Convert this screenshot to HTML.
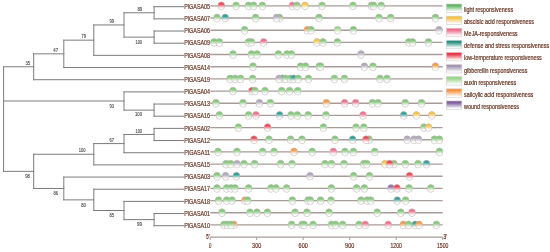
<!DOCTYPE html><html><head><meta charset="utf-8"><title>PlGASA cis-elements</title>
<style>html,body{margin:0;padding:0;background:#fff;}svg{display:block;filter:blur(0.3px);}text{font-family:"Liberation Sans",Arial,sans-serif;}</style></head><body>
<svg width="550" height="252" viewBox="0 0 550 252">
<defs>
<linearGradient id="gG" x1="0" y1="0" x2="0" y2="1"><stop offset="0" stop-color="#84c97c"/><stop offset="0.28" stop-color="#84c97c"/><stop offset="0.78" stop-color="#ffffff"/></linearGradient>
<linearGradient id="sG" x1="0" y1="0" x2="0" y2="1"><stop offset="0" stop-color="#62b862"/><stop offset="0.2" stop-color="#62b862"/><stop offset="0.9" stop-color="#ffffff"/></linearGradient>
<linearGradient id="gY" x1="0" y1="0" x2="0" y2="1"><stop offset="0" stop-color="#f8c64a"/><stop offset="0.28" stop-color="#f8c64a"/><stop offset="0.78" stop-color="#ffffff"/></linearGradient>
<linearGradient id="sY" x1="0" y1="0" x2="0" y2="1"><stop offset="0" stop-color="#f6c040"/><stop offset="0.2" stop-color="#f6c040"/><stop offset="0.9" stop-color="#ffffff"/></linearGradient>
<linearGradient id="gP" x1="0" y1="0" x2="0" y2="1"><stop offset="0" stop-color="#f27090"/><stop offset="0.28" stop-color="#f27090"/><stop offset="0.78" stop-color="#ffffff"/></linearGradient>
<linearGradient id="sP" x1="0" y1="0" x2="0" y2="1"><stop offset="0" stop-color="#f06a8a"/><stop offset="0.2" stop-color="#f06a8a"/><stop offset="0.9" stop-color="#ffffff"/></linearGradient>
<linearGradient id="gT" x1="0" y1="0" x2="0" y2="1"><stop offset="0" stop-color="#32a096"/><stop offset="0.28" stop-color="#32a096"/><stop offset="0.78" stop-color="#ffffff"/></linearGradient>
<linearGradient id="sT" x1="0" y1="0" x2="0" y2="1"><stop offset="0" stop-color="#22907f"/><stop offset="0.2" stop-color="#22907f"/><stop offset="0.9" stop-color="#ffffff"/></linearGradient>
<linearGradient id="gR" x1="0" y1="0" x2="0" y2="1"><stop offset="0" stop-color="#f04656"/><stop offset="0.28" stop-color="#f04656"/><stop offset="0.78" stop-color="#ffffff"/></linearGradient>
<linearGradient id="sR" x1="0" y1="0" x2="0" y2="1"><stop offset="0" stop-color="#ea3444"/><stop offset="0.2" stop-color="#ea3444"/><stop offset="0.9" stop-color="#ffffff"/></linearGradient>
<linearGradient id="gL" x1="0" y1="0" x2="0" y2="1"><stop offset="0" stop-color="#b0a8bc"/><stop offset="0.28" stop-color="#b0a8bc"/><stop offset="0.78" stop-color="#ffffff"/></linearGradient>
<linearGradient id="sL" x1="0" y1="0" x2="0" y2="1"><stop offset="0" stop-color="#a096b0"/><stop offset="0.2" stop-color="#a096b0"/><stop offset="0.9" stop-color="#ffffff"/></linearGradient>
<linearGradient id="gA" x1="0" y1="0" x2="0" y2="1"><stop offset="0" stop-color="#a4d894"/><stop offset="0.28" stop-color="#a4d894"/><stop offset="0.78" stop-color="#ffffff"/></linearGradient>
<linearGradient id="sA" x1="0" y1="0" x2="0" y2="1"><stop offset="0" stop-color="#9cd68c"/><stop offset="0.2" stop-color="#9cd68c"/><stop offset="0.9" stop-color="#ffffff"/></linearGradient>
<linearGradient id="gO" x1="0" y1="0" x2="0" y2="1"><stop offset="0" stop-color="#f89a48"/><stop offset="0.28" stop-color="#f89a48"/><stop offset="0.78" stop-color="#ffffff"/></linearGradient>
<linearGradient id="sO" x1="0" y1="0" x2="0" y2="1"><stop offset="0" stop-color="#f8923e"/><stop offset="0.2" stop-color="#f8923e"/><stop offset="0.9" stop-color="#ffffff"/></linearGradient>
<linearGradient id="gW" x1="0" y1="0" x2="0" y2="1"><stop offset="0" stop-color="#9474b0"/><stop offset="0.28" stop-color="#9474b0"/><stop offset="0.78" stop-color="#ffffff"/></linearGradient>
<linearGradient id="sW" x1="0" y1="0" x2="0" y2="1"><stop offset="0" stop-color="#7e5e9c"/><stop offset="0.2" stop-color="#7e5e9c"/><stop offset="0.9" stop-color="#ffffff"/></linearGradient>
</defs>
<rect width="550" height="252" fill="#ffffff"/>
<g stroke-linecap="square" fill="none">
<line x1="3.6" y1="66.78" x2="3.6" y2="171.35" stroke="#7c7c7c" stroke-width="1"/>
<line x1="3.6" y1="66.78" x2="33.7" y2="66.78" stroke="#7c7c7c" stroke-width="1"/>
<line x1="3.6" y1="101" x2="124" y2="101" stroke="#7c7c7c" stroke-width="1"/>
<line x1="3.6" y1="171.35" x2="33.7" y2="171.35" stroke="#7c7c7c" stroke-width="1"/>
<line x1="33.7" y1="53.85" x2="33.7" y2="79.71" stroke="#7c7c7c" stroke-width="1"/>
<line x1="33.7" y1="53.85" x2="63.8" y2="53.85" stroke="#7c7c7c" stroke-width="1"/>
<line x1="63.8" y1="40.16" x2="63.8" y2="67.54" stroke="#7c7c7c" stroke-width="1"/>
<line x1="63.8" y1="40.16" x2="93.8" y2="40.16" stroke="#7c7c7c" stroke-width="1"/>
<line x1="93.8" y1="24.95" x2="93.8" y2="55.37" stroke="#7c7c7c" stroke-width="1"/>
<line x1="93.8" y1="24.95" x2="124" y2="24.95" stroke="#7c7c7c" stroke-width="1"/>
<line x1="124" y1="12.78" x2="124" y2="37.12" stroke="#7c7c7c" stroke-width="1"/>
<line x1="124" y1="12.78" x2="154.1" y2="12.78" stroke="#7c7c7c" stroke-width="1"/>
<line x1="124" y1="37.12" x2="154.1" y2="37.12" stroke="#7c7c7c" stroke-width="1"/>
<line x1="154.1" y1="6.7" x2="154.1" y2="18.87" stroke="#7c7c7c" stroke-width="1"/>
<line x1="154.1" y1="31.04" x2="154.1" y2="43.2" stroke="#7c7c7c" stroke-width="1"/>
<line x1="124" y1="91.88" x2="124" y2="110.13" stroke="#7c7c7c" stroke-width="1"/>
<line x1="124" y1="110.13" x2="154.1" y2="110.13" stroke="#7c7c7c" stroke-width="1"/>
<line x1="154.1" y1="104.04" x2="154.1" y2="116.21" stroke="#7c7c7c" stroke-width="1"/>
<line x1="33.7" y1="154.24" x2="33.7" y2="188.46" stroke="#7c7c7c" stroke-width="1"/>
<line x1="33.7" y1="154.24" x2="93.8" y2="154.24" stroke="#7c7c7c" stroke-width="1"/>
<line x1="33.7" y1="188.46" x2="63.8" y2="188.46" stroke="#7c7c7c" stroke-width="1"/>
<line x1="93.8" y1="143.59" x2="93.8" y2="164.88" stroke="#7c7c7c" stroke-width="1"/>
<line x1="93.8" y1="143.59" x2="124" y2="143.59" stroke="#7c7c7c" stroke-width="1"/>
<line x1="124" y1="134.46" x2="124" y2="152.72" stroke="#7c7c7c" stroke-width="1"/>
<line x1="124" y1="134.46" x2="154.1" y2="134.46" stroke="#7c7c7c" stroke-width="1"/>
<line x1="154.1" y1="128.38" x2="154.1" y2="140.55" stroke="#7c7c7c" stroke-width="1"/>
<line x1="63.8" y1="177.05" x2="63.8" y2="199.87" stroke="#7c7c7c" stroke-width="1"/>
<line x1="63.8" y1="199.87" x2="93.8" y2="199.87" stroke="#7c7c7c" stroke-width="1"/>
<line x1="93.8" y1="189.22" x2="93.8" y2="210.51" stroke="#7c7c7c" stroke-width="1"/>
<line x1="93.8" y1="210.51" x2="124" y2="210.51" stroke="#7c7c7c" stroke-width="1"/>
<line x1="124" y1="201.39" x2="124" y2="219.64" stroke="#7c7c7c" stroke-width="1"/>
<line x1="124" y1="219.64" x2="154.1" y2="219.64" stroke="#7c7c7c" stroke-width="1"/>
<line x1="154.1" y1="213.56" x2="154.1" y2="225.72" stroke="#7c7c7c" stroke-width="1"/>
<line x1="154.1" y1="6.7" x2="183.6" y2="6.7" stroke="#7c7c7c" stroke-width="1"/>
<line x1="154.1" y1="18.87" x2="183.6" y2="18.87" stroke="#7c7c7c" stroke-width="1"/>
<line x1="154.1" y1="31.04" x2="183.6" y2="31.04" stroke="#7c7c7c" stroke-width="1"/>
<line x1="154.1" y1="43.2" x2="183.6" y2="43.2" stroke="#7c7c7c" stroke-width="1"/>
<line x1="93.8" y1="55.37" x2="183.6" y2="55.37" stroke="#7c7c7c" stroke-width="1"/>
<line x1="63.8" y1="67.54" x2="183.6" y2="67.54" stroke="#7c7c7c" stroke-width="1"/>
<line x1="33.7" y1="79.71" x2="183.6" y2="79.71" stroke="#7c7c7c" stroke-width="1"/>
<line x1="124" y1="91.88" x2="183.6" y2="91.88" stroke="#7c7c7c" stroke-width="1"/>
<line x1="154.1" y1="104.04" x2="183.6" y2="104.04" stroke="#7c7c7c" stroke-width="1"/>
<line x1="154.1" y1="116.21" x2="183.6" y2="116.21" stroke="#7c7c7c" stroke-width="1"/>
<line x1="154.1" y1="128.38" x2="183.6" y2="128.38" stroke="#7c7c7c" stroke-width="1"/>
<line x1="154.1" y1="140.55" x2="183.6" y2="140.55" stroke="#7c7c7c" stroke-width="1"/>
<line x1="124" y1="152.72" x2="183.6" y2="152.72" stroke="#7c7c7c" stroke-width="1"/>
<line x1="93.8" y1="164.88" x2="183.6" y2="164.88" stroke="#7c7c7c" stroke-width="1"/>
<line x1="63.8" y1="177.05" x2="183.6" y2="177.05" stroke="#7c7c7c" stroke-width="1"/>
<line x1="93.8" y1="189.22" x2="183.6" y2="189.22" stroke="#7c7c7c" stroke-width="1"/>
<line x1="124" y1="201.39" x2="183.6" y2="201.39" stroke="#7c7c7c" stroke-width="1"/>
<line x1="154.1" y1="213.56" x2="183.6" y2="213.56" stroke="#7c7c7c" stroke-width="1"/>
<line x1="154.1" y1="225.72" x2="183.6" y2="225.72" stroke="#7c7c7c" stroke-width="1"/>
</g>
<text x="137.4" y="10.6" font-size="4.6" fill="#4a4a4a" stroke="#4a4a4a" stroke-width="0.12" textLength="4.8" lengthAdjust="spacingAndGlyphs">89</text>
<text x="135.5" y="43.7" font-size="4.6" fill="#4a4a4a" stroke="#4a4a4a" stroke-width="0.12" textLength="6.5" lengthAdjust="spacingAndGlyphs">100</text>
<text x="109.5" y="23.2" font-size="4.6" fill="#4a4a4a" stroke="#4a4a4a" stroke-width="0.12" textLength="4.5" lengthAdjust="spacingAndGlyphs">99</text>
<text x="81.5" y="38.3" font-size="4.6" fill="#4a4a4a" stroke="#4a4a4a" stroke-width="0.12" textLength="4.5" lengthAdjust="spacingAndGlyphs">79</text>
<text x="53.3" y="51.8" font-size="4.6" fill="#4a4a4a" stroke="#4a4a4a" stroke-width="0.12" textLength="4.8" lengthAdjust="spacingAndGlyphs">47</text>
<text x="25.4" y="64.9" font-size="4.6" fill="#4a4a4a" stroke="#4a4a4a" stroke-width="0.12" textLength="4.7" lengthAdjust="spacingAndGlyphs">35</text>
<text x="109.5" y="107.5" font-size="4.6" fill="#4a4a4a" stroke="#4a4a4a" stroke-width="0.12" textLength="4.5" lengthAdjust="spacingAndGlyphs">93</text>
<text x="135" y="116.4" font-size="4.6" fill="#4a4a4a" stroke="#4a4a4a" stroke-width="0.12" textLength="7" lengthAdjust="spacingAndGlyphs">100</text>
<text x="135.5" y="132.9" font-size="4.6" fill="#4a4a4a" stroke="#4a4a4a" stroke-width="0.12" textLength="6.5" lengthAdjust="spacingAndGlyphs">100</text>
<text x="109.5" y="142.4" font-size="4.6" fill="#4a4a4a" stroke="#4a4a4a" stroke-width="0.12" textLength="4.5" lengthAdjust="spacingAndGlyphs">67</text>
<text x="78.7" y="152.4" font-size="4.6" fill="#4a4a4a" stroke="#4a4a4a" stroke-width="0.12" textLength="6.8" lengthAdjust="spacingAndGlyphs">100</text>
<text x="25.2" y="178.2" font-size="4.6" fill="#4a4a4a" stroke="#4a4a4a" stroke-width="0.12" textLength="4.8" lengthAdjust="spacingAndGlyphs">98</text>
<text x="53.4" y="195.1" font-size="4.6" fill="#4a4a4a" stroke="#4a4a4a" stroke-width="0.12" textLength="4.5" lengthAdjust="spacingAndGlyphs">86</text>
<text x="81.2" y="206.5" font-size="4.6" fill="#4a4a4a" stroke="#4a4a4a" stroke-width="0.12" textLength="4.7" lengthAdjust="spacingAndGlyphs">80</text>
<text x="109.5" y="216.9" font-size="4.6" fill="#4a4a4a" stroke="#4a4a4a" stroke-width="0.12" textLength="4.5" lengthAdjust="spacingAndGlyphs">85</text>
<text x="137" y="225.9" font-size="4.6" fill="#4a4a4a" stroke="#4a4a4a" stroke-width="0.12" textLength="5" lengthAdjust="spacingAndGlyphs">99</text>
<line x1="210.3" y1="5.9" x2="442.6" y2="5.9" stroke="#a89c9a" stroke-width="1.4"/>
<text x="184.3" y="8.95" font-size="7.9" fill="#64301f" stroke="#64301f" stroke-width="0.2" textLength="25.8" lengthAdjust="spacingAndGlyphs">PlGASA05</text>
<ellipse cx="221.3" cy="5.9" rx="3.45" ry="3.95" fill="url(#gR)" stroke="#bcb4b0" stroke-width="0.55"/>
<ellipse cx="236.1" cy="5.9" rx="3.45" ry="3.95" fill="url(#gG)" stroke="#bcb4b0" stroke-width="0.55"/>
<ellipse cx="248.5" cy="5.9" rx="3.45" ry="3.95" fill="url(#gG)" stroke="#bcb4b0" stroke-width="0.55"/>
<ellipse cx="253.6" cy="5.9" rx="3.45" ry="3.95" fill="url(#gG)" stroke="#bcb4b0" stroke-width="0.55"/>
<ellipse cx="262.4" cy="5.9" rx="3.45" ry="3.95" fill="url(#gG)" stroke="#bcb4b0" stroke-width="0.55"/>
<ellipse cx="292.4" cy="5.9" rx="3.45" ry="3.95" fill="url(#gP)" stroke="#bcb4b0" stroke-width="0.55"/>
<ellipse cx="297" cy="5.9" rx="3.45" ry="3.95" fill="url(#gG)" stroke="#bcb4b0" stroke-width="0.55"/>
<ellipse cx="305" cy="5.9" rx="3.45" ry="3.95" fill="url(#gY)" stroke="#bcb4b0" stroke-width="0.55"/>
<ellipse cx="322" cy="5.9" rx="3.45" ry="3.95" fill="url(#gG)" stroke="#bcb4b0" stroke-width="0.55"/>
<ellipse cx="353" cy="5.9" rx="3.45" ry="3.95" fill="url(#gG)" stroke="#bcb4b0" stroke-width="0.55"/>
<ellipse cx="371.5" cy="5.9" rx="3.45" ry="3.95" fill="url(#gG)" stroke="#bcb4b0" stroke-width="0.55"/>
<ellipse cx="373.6" cy="5.9" rx="3.45" ry="3.95" fill="url(#gG)" stroke="#bcb4b0" stroke-width="0.55"/>
<ellipse cx="381.2" cy="5.9" rx="3.45" ry="3.95" fill="url(#gG)" stroke="#bcb4b0" stroke-width="0.55"/>
<line x1="210.3" y1="18.07" x2="442.6" y2="18.07" stroke="#a89c9a" stroke-width="1.4"/>
<text x="184.3" y="21.12" font-size="7.9" fill="#64301f" stroke="#64301f" stroke-width="0.2" textLength="25.8" lengthAdjust="spacingAndGlyphs">PlGASA07</text>
<ellipse cx="217" cy="18.07" rx="3.45" ry="3.95" fill="url(#gG)" stroke="#bcb4b0" stroke-width="0.55"/>
<ellipse cx="225.2" cy="18.07" rx="3.45" ry="3.95" fill="url(#gT)" stroke="#bcb4b0" stroke-width="0.55"/>
<ellipse cx="255.6" cy="18.07" rx="3.45" ry="3.95" fill="url(#gG)" stroke="#bcb4b0" stroke-width="0.55"/>
<ellipse cx="279.4" cy="18.07" rx="3.45" ry="3.95" fill="url(#gG)" stroke="#bcb4b0" stroke-width="0.55"/>
<ellipse cx="276.6" cy="18.07" rx="3.45" ry="3.95" fill="url(#gL)" stroke="#bcb4b0" stroke-width="0.55"/>
<ellipse cx="319" cy="18.07" rx="3.45" ry="3.95" fill="url(#gG)" stroke="#bcb4b0" stroke-width="0.55"/>
<ellipse cx="379" cy="18.07" rx="3.45" ry="3.95" fill="url(#gG)" stroke="#bcb4b0" stroke-width="0.55"/>
<ellipse cx="390.7" cy="18.07" rx="3.45" ry="3.95" fill="url(#gG)" stroke="#bcb4b0" stroke-width="0.55"/>
<ellipse cx="435.4" cy="18.07" rx="3.45" ry="3.95" fill="url(#gG)" stroke="#bcb4b0" stroke-width="0.55"/>
<line x1="210.3" y1="30.24" x2="442.6" y2="30.24" stroke="#a89c9a" stroke-width="1.4"/>
<text x="184.3" y="33.29" font-size="7.9" fill="#64301f" stroke="#64301f" stroke-width="0.2" textLength="25.8" lengthAdjust="spacingAndGlyphs">PlGASA06</text>
<ellipse cx="244.6" cy="30.24" rx="3.45" ry="3.95" fill="url(#gG)" stroke="#bcb4b0" stroke-width="0.55"/>
<ellipse cx="307.3" cy="30.24" rx="3.45" ry="3.95" fill="url(#gO)" stroke="#bcb4b0" stroke-width="0.55"/>
<ellipse cx="311" cy="30.24" rx="3.45" ry="3.95" fill="url(#gG)" stroke="#bcb4b0" stroke-width="0.55"/>
<ellipse cx="337.6" cy="30.24" rx="3.45" ry="3.95" fill="url(#gA)" stroke="#bcb4b0" stroke-width="0.55"/>
<ellipse cx="353.4" cy="30.24" rx="3.45" ry="3.95" fill="url(#gG)" stroke="#bcb4b0" stroke-width="0.55"/>
<ellipse cx="439" cy="30.24" rx="3.45" ry="3.95" fill="url(#gL)" stroke="#bcb4b0" stroke-width="0.55"/>
<line x1="210.3" y1="42.4" x2="442.6" y2="42.4" stroke="#a89c9a" stroke-width="1.4"/>
<text x="184.3" y="45.45" font-size="7.9" fill="#64301f" stroke="#64301f" stroke-width="0.2" textLength="25.8" lengthAdjust="spacingAndGlyphs">PlGASA09</text>
<ellipse cx="214" cy="42.4" rx="3.45" ry="3.95" fill="url(#gG)" stroke="#bcb4b0" stroke-width="0.55"/>
<ellipse cx="219.4" cy="42.4" rx="3.45" ry="3.95" fill="url(#gG)" stroke="#bcb4b0" stroke-width="0.55"/>
<ellipse cx="248.6" cy="42.4" rx="3.45" ry="3.95" fill="url(#gG)" stroke="#bcb4b0" stroke-width="0.55"/>
<ellipse cx="251.4" cy="42.4" rx="3.45" ry="3.95" fill="url(#gG)" stroke="#bcb4b0" stroke-width="0.55"/>
<ellipse cx="263.6" cy="42.4" rx="3.45" ry="3.95" fill="url(#gP)" stroke="#bcb4b0" stroke-width="0.55"/>
<ellipse cx="317" cy="42.4" rx="3.45" ry="3.95" fill="url(#gY)" stroke="#bcb4b0" stroke-width="0.55"/>
<ellipse cx="323" cy="42.4" rx="3.45" ry="3.95" fill="url(#gG)" stroke="#bcb4b0" stroke-width="0.55"/>
<ellipse cx="337.4" cy="42.4" rx="3.45" ry="3.95" fill="url(#gG)" stroke="#bcb4b0" stroke-width="0.55"/>
<ellipse cx="408.8" cy="42.4" rx="3.45" ry="3.95" fill="url(#gG)" stroke="#bcb4b0" stroke-width="0.55"/>
<ellipse cx="412.6" cy="42.4" rx="3.45" ry="3.95" fill="url(#gG)" stroke="#bcb4b0" stroke-width="0.55"/>
<ellipse cx="428.5" cy="42.4" rx="3.45" ry="3.95" fill="url(#gG)" stroke="#bcb4b0" stroke-width="0.55"/>
<line x1="210.3" y1="54.57" x2="442.6" y2="54.57" stroke="#a89c9a" stroke-width="1.4"/>
<text x="184.3" y="57.62" font-size="7.9" fill="#64301f" stroke="#64301f" stroke-width="0.2" textLength="25.8" lengthAdjust="spacingAndGlyphs">PlGASA08</text>
<ellipse cx="233" cy="54.57" rx="3.45" ry="3.95" fill="url(#gG)" stroke="#bcb4b0" stroke-width="0.55"/>
<ellipse cx="251.4" cy="54.57" rx="3.45" ry="3.95" fill="url(#gG)" stroke="#bcb4b0" stroke-width="0.55"/>
<ellipse cx="257" cy="54.57" rx="3.45" ry="3.95" fill="url(#gG)" stroke="#bcb4b0" stroke-width="0.55"/>
<ellipse cx="278.4" cy="54.57" rx="3.45" ry="3.95" fill="url(#gG)" stroke="#bcb4b0" stroke-width="0.55"/>
<ellipse cx="287" cy="54.57" rx="3.45" ry="3.95" fill="url(#gG)" stroke="#bcb4b0" stroke-width="0.55"/>
<ellipse cx="291.4" cy="54.57" rx="3.45" ry="3.95" fill="url(#gG)" stroke="#bcb4b0" stroke-width="0.55"/>
<ellipse cx="361" cy="54.57" rx="3.45" ry="3.95" fill="url(#gL)" stroke="#bcb4b0" stroke-width="0.55"/>
<line x1="210.3" y1="66.74" x2="442.6" y2="66.74" stroke="#a89c9a" stroke-width="1.4"/>
<text x="184.3" y="69.79" font-size="7.9" fill="#64301f" stroke="#64301f" stroke-width="0.2" textLength="25.8" lengthAdjust="spacingAndGlyphs">PlGASA14</text>
<ellipse cx="253" cy="66.74" rx="3.45" ry="3.95" fill="url(#gG)" stroke="#bcb4b0" stroke-width="0.55"/>
<ellipse cx="300.6" cy="66.74" rx="3.45" ry="3.95" fill="url(#gG)" stroke="#bcb4b0" stroke-width="0.55"/>
<ellipse cx="305.6" cy="66.74" rx="3.45" ry="3.95" fill="url(#gG)" stroke="#bcb4b0" stroke-width="0.55"/>
<ellipse cx="319.2" cy="66.74" rx="3.45" ry="3.95" fill="url(#gG)" stroke="#bcb4b0" stroke-width="0.55"/>
<ellipse cx="320.6" cy="66.74" rx="3.45" ry="3.95" fill="url(#gG)" stroke="#bcb4b0" stroke-width="0.55"/>
<ellipse cx="364.4" cy="66.74" rx="3.45" ry="3.95" fill="url(#gL)" stroke="#bcb4b0" stroke-width="0.55"/>
<ellipse cx="373" cy="66.74" rx="3.45" ry="3.95" fill="url(#gG)" stroke="#bcb4b0" stroke-width="0.55"/>
<ellipse cx="435.4" cy="66.74" rx="3.45" ry="3.95" fill="url(#gO)" stroke="#bcb4b0" stroke-width="0.55"/>
<line x1="210.3" y1="78.91" x2="442.6" y2="78.91" stroke="#a89c9a" stroke-width="1.4"/>
<text x="184.3" y="81.96" font-size="7.9" fill="#64301f" stroke="#64301f" stroke-width="0.2" textLength="25.8" lengthAdjust="spacingAndGlyphs">PlGASA19</text>
<ellipse cx="230" cy="78.91" rx="3.45" ry="3.95" fill="url(#gG)" stroke="#bcb4b0" stroke-width="0.55"/>
<ellipse cx="235" cy="78.91" rx="3.45" ry="3.95" fill="url(#gG)" stroke="#bcb4b0" stroke-width="0.55"/>
<ellipse cx="240.6" cy="78.91" rx="3.45" ry="3.95" fill="url(#gG)" stroke="#bcb4b0" stroke-width="0.55"/>
<ellipse cx="252.6" cy="78.91" rx="3.45" ry="3.95" fill="url(#gG)" stroke="#bcb4b0" stroke-width="0.55"/>
<ellipse cx="282.6" cy="78.91" rx="3.45" ry="3.95" fill="url(#gT)" stroke="#bcb4b0" stroke-width="0.55"/>
<ellipse cx="279" cy="78.91" rx="3.45" ry="3.95" fill="url(#gL)" stroke="#bcb4b0" stroke-width="0.55"/>
<ellipse cx="285.5" cy="78.91" rx="3.45" ry="3.95" fill="url(#gG)" stroke="#bcb4b0" stroke-width="0.55"/>
<ellipse cx="290.6" cy="78.91" rx="3.45" ry="3.95" fill="url(#gG)" stroke="#bcb4b0" stroke-width="0.55"/>
<ellipse cx="293.6" cy="78.91" rx="3.45" ry="3.95" fill="url(#gT)" stroke="#bcb4b0" stroke-width="0.55"/>
<ellipse cx="298.3" cy="78.91" rx="3.45" ry="3.95" fill="url(#gG)" stroke="#bcb4b0" stroke-width="0.55"/>
<ellipse cx="308.5" cy="78.91" rx="3.45" ry="3.95" fill="url(#gG)" stroke="#bcb4b0" stroke-width="0.55"/>
<ellipse cx="334.4" cy="78.91" rx="3.45" ry="3.95" fill="url(#gG)" stroke="#bcb4b0" stroke-width="0.55"/>
<ellipse cx="344.4" cy="78.91" rx="3.45" ry="3.95" fill="url(#gG)" stroke="#bcb4b0" stroke-width="0.55"/>
<ellipse cx="380" cy="78.91" rx="3.45" ry="3.95" fill="url(#gG)" stroke="#bcb4b0" stroke-width="0.55"/>
<ellipse cx="387" cy="78.91" rx="3.45" ry="3.95" fill="url(#gG)" stroke="#bcb4b0" stroke-width="0.55"/>
<line x1="210.3" y1="91.08" x2="442.6" y2="91.08" stroke="#a89c9a" stroke-width="1.4"/>
<text x="184.3" y="94.13" font-size="7.9" fill="#64301f" stroke="#64301f" stroke-width="0.2" textLength="25.8" lengthAdjust="spacingAndGlyphs">PlGASA04</text>
<ellipse cx="233" cy="91.08" rx="3.45" ry="3.95" fill="url(#gG)" stroke="#bcb4b0" stroke-width="0.55"/>
<ellipse cx="252" cy="91.08" rx="3.45" ry="3.95" fill="url(#gR)" stroke="#bcb4b0" stroke-width="0.55"/>
<ellipse cx="255" cy="91.08" rx="3.45" ry="3.95" fill="url(#gG)" stroke="#bcb4b0" stroke-width="0.55"/>
<ellipse cx="265" cy="91.08" rx="3.45" ry="3.95" fill="url(#gG)" stroke="#bcb4b0" stroke-width="0.55"/>
<ellipse cx="281.7" cy="91.08" rx="3.45" ry="3.95" fill="url(#gG)" stroke="#bcb4b0" stroke-width="0.55"/>
<ellipse cx="289.6" cy="91.08" rx="3.45" ry="3.95" fill="url(#gG)" stroke="#bcb4b0" stroke-width="0.55"/>
<ellipse cx="297.7" cy="91.08" rx="3.45" ry="3.95" fill="url(#gG)" stroke="#bcb4b0" stroke-width="0.55"/>
<line x1="210.3" y1="103.24" x2="442.6" y2="103.24" stroke="#a89c9a" stroke-width="1.4"/>
<text x="184.3" y="106.29" font-size="7.9" fill="#64301f" stroke="#64301f" stroke-width="0.2" textLength="25.8" lengthAdjust="spacingAndGlyphs">PlGASA13</text>
<ellipse cx="216" cy="103.24" rx="3.45" ry="3.95" fill="url(#gG)" stroke="#bcb4b0" stroke-width="0.55"/>
<ellipse cx="243" cy="103.24" rx="3.45" ry="3.95" fill="url(#gG)" stroke="#bcb4b0" stroke-width="0.55"/>
<ellipse cx="259.4" cy="103.24" rx="3.45" ry="3.95" fill="url(#gL)" stroke="#bcb4b0" stroke-width="0.55"/>
<ellipse cx="270.4" cy="103.24" rx="3.45" ry="3.95" fill="url(#gG)" stroke="#bcb4b0" stroke-width="0.55"/>
<ellipse cx="326.4" cy="103.24" rx="3.45" ry="3.95" fill="url(#gO)" stroke="#bcb4b0" stroke-width="0.55"/>
<ellipse cx="344.6" cy="103.24" rx="3.45" ry="3.95" fill="url(#gP)" stroke="#bcb4b0" stroke-width="0.55"/>
<ellipse cx="355.6" cy="103.24" rx="3.45" ry="3.95" fill="url(#gP)" stroke="#bcb4b0" stroke-width="0.55"/>
<ellipse cx="372.4" cy="103.24" rx="3.45" ry="3.95" fill="url(#gG)" stroke="#bcb4b0" stroke-width="0.55"/>
<ellipse cx="378" cy="103.24" rx="3.45" ry="3.95" fill="url(#gG)" stroke="#bcb4b0" stroke-width="0.55"/>
<ellipse cx="405.2" cy="103.24" rx="3.45" ry="3.95" fill="url(#gG)" stroke="#bcb4b0" stroke-width="0.55"/>
<ellipse cx="421.5" cy="103.24" rx="3.45" ry="3.95" fill="url(#gG)" stroke="#bcb4b0" stroke-width="0.55"/>
<line x1="210.3" y1="115.41" x2="442.6" y2="115.41" stroke="#a89c9a" stroke-width="1.4"/>
<text x="184.3" y="118.46" font-size="7.9" fill="#64301f" stroke="#64301f" stroke-width="0.2" textLength="25.8" lengthAdjust="spacingAndGlyphs">PlGASA16</text>
<ellipse cx="219.4" cy="115.41" rx="3.45" ry="3.95" fill="url(#gG)" stroke="#bcb4b0" stroke-width="0.55"/>
<ellipse cx="248.6" cy="115.41" rx="3.45" ry="3.95" fill="url(#gG)" stroke="#bcb4b0" stroke-width="0.55"/>
<ellipse cx="256" cy="115.41" rx="3.45" ry="3.95" fill="url(#gP)" stroke="#bcb4b0" stroke-width="0.55"/>
<ellipse cx="279.6" cy="115.41" rx="3.45" ry="3.95" fill="url(#gT)" stroke="#bcb4b0" stroke-width="0.55"/>
<ellipse cx="291" cy="115.41" rx="3.45" ry="3.95" fill="url(#gG)" stroke="#bcb4b0" stroke-width="0.55"/>
<ellipse cx="297.4" cy="115.41" rx="3.45" ry="3.95" fill="url(#gG)" stroke="#bcb4b0" stroke-width="0.55"/>
<ellipse cx="308.2" cy="115.41" rx="3.45" ry="3.95" fill="url(#gG)" stroke="#bcb4b0" stroke-width="0.55"/>
<ellipse cx="326" cy="115.41" rx="3.45" ry="3.95" fill="url(#gG)" stroke="#bcb4b0" stroke-width="0.55"/>
<ellipse cx="363" cy="115.41" rx="3.45" ry="3.95" fill="url(#gP)" stroke="#bcb4b0" stroke-width="0.55"/>
<ellipse cx="403.7" cy="115.41" rx="3.45" ry="3.95" fill="url(#gT)" stroke="#bcb4b0" stroke-width="0.55"/>
<ellipse cx="416.5" cy="115.41" rx="3.45" ry="3.95" fill="url(#gY)" stroke="#bcb4b0" stroke-width="0.55"/>
<ellipse cx="431.8" cy="115.41" rx="3.45" ry="3.95" fill="url(#gY)" stroke="#bcb4b0" stroke-width="0.55"/>
<line x1="210.3" y1="127.58" x2="442.6" y2="127.58" stroke="#a89c9a" stroke-width="1.4"/>
<text x="184.3" y="130.63" font-size="7.9" fill="#64301f" stroke="#64301f" stroke-width="0.2" textLength="25.8" lengthAdjust="spacingAndGlyphs">PlGASA02</text>
<ellipse cx="238.4" cy="127.58" rx="3.45" ry="3.95" fill="url(#gG)" stroke="#bcb4b0" stroke-width="0.55"/>
<ellipse cx="267.6" cy="127.58" rx="3.45" ry="3.95" fill="url(#gR)" stroke="#bcb4b0" stroke-width="0.55"/>
<ellipse cx="323.4" cy="127.58" rx="3.45" ry="3.95" fill="url(#gG)" stroke="#bcb4b0" stroke-width="0.55"/>
<ellipse cx="356" cy="127.58" rx="3.45" ry="3.95" fill="url(#gG)" stroke="#bcb4b0" stroke-width="0.55"/>
<ellipse cx="363.8" cy="127.58" rx="3.45" ry="3.95" fill="url(#gG)" stroke="#bcb4b0" stroke-width="0.55"/>
<ellipse cx="423.9" cy="127.58" rx="3.45" ry="3.95" fill="url(#gG)" stroke="#bcb4b0" stroke-width="0.55"/>
<ellipse cx="428.5" cy="127.58" rx="3.45" ry="3.95" fill="url(#gY)" stroke="#bcb4b0" stroke-width="0.55"/>
<line x1="210.3" y1="139.75" x2="442.6" y2="139.75" stroke="#a89c9a" stroke-width="1.4"/>
<text x="184.3" y="142.8" font-size="7.9" fill="#64301f" stroke="#64301f" stroke-width="0.2" textLength="25.8" lengthAdjust="spacingAndGlyphs">PlGASA12</text>
<ellipse cx="254" cy="139.75" rx="3.45" ry="3.95" fill="url(#gR)" stroke="#bcb4b0" stroke-width="0.55"/>
<ellipse cx="269" cy="139.75" rx="3.45" ry="3.95" fill="url(#gG)" stroke="#bcb4b0" stroke-width="0.55"/>
<ellipse cx="290.6" cy="139.75" rx="3.45" ry="3.95" fill="url(#gG)" stroke="#bcb4b0" stroke-width="0.55"/>
<ellipse cx="302" cy="139.75" rx="3.45" ry="3.95" fill="url(#gG)" stroke="#bcb4b0" stroke-width="0.55"/>
<ellipse cx="335" cy="139.75" rx="3.45" ry="3.95" fill="url(#gG)" stroke="#bcb4b0" stroke-width="0.55"/>
<ellipse cx="352.6" cy="139.75" rx="3.45" ry="3.95" fill="url(#gT)" stroke="#bcb4b0" stroke-width="0.55"/>
<ellipse cx="369" cy="139.75" rx="3.45" ry="3.95" fill="url(#gG)" stroke="#bcb4b0" stroke-width="0.55"/>
<ellipse cx="366" cy="139.75" rx="3.45" ry="3.95" fill="url(#gR)" stroke="#bcb4b0" stroke-width="0.55"/>
<ellipse cx="407.2" cy="139.75" rx="3.45" ry="3.95" fill="url(#gL)" stroke="#bcb4b0" stroke-width="0.55"/>
<ellipse cx="414" cy="139.75" rx="3.45" ry="3.95" fill="url(#gL)" stroke="#bcb4b0" stroke-width="0.55"/>
<ellipse cx="418.5" cy="139.75" rx="3.45" ry="3.95" fill="url(#gL)" stroke="#bcb4b0" stroke-width="0.55"/>
<ellipse cx="434.4" cy="139.75" rx="3.45" ry="3.95" fill="url(#gG)" stroke="#bcb4b0" stroke-width="0.55"/>
<ellipse cx="439.4" cy="139.75" rx="3.45" ry="3.95" fill="url(#gG)" stroke="#bcb4b0" stroke-width="0.55"/>
<line x1="210.3" y1="151.92" x2="442.6" y2="151.92" stroke="#a89c9a" stroke-width="1.4"/>
<text x="184.3" y="154.97" font-size="7.9" fill="#64301f" stroke="#64301f" stroke-width="0.2" textLength="25.8" lengthAdjust="spacingAndGlyphs">PlGASA11</text>
<ellipse cx="218" cy="151.92" rx="3.45" ry="3.95" fill="url(#gG)" stroke="#bcb4b0" stroke-width="0.55"/>
<ellipse cx="237" cy="151.92" rx="3.45" ry="3.95" fill="url(#gG)" stroke="#bcb4b0" stroke-width="0.55"/>
<ellipse cx="262.6" cy="151.92" rx="3.45" ry="3.95" fill="url(#gG)" stroke="#bcb4b0" stroke-width="0.55"/>
<ellipse cx="274" cy="151.92" rx="3.45" ry="3.95" fill="url(#gG)" stroke="#bcb4b0" stroke-width="0.55"/>
<ellipse cx="294" cy="151.92" rx="3.45" ry="3.95" fill="url(#gO)" stroke="#bcb4b0" stroke-width="0.55"/>
<ellipse cx="312.2" cy="151.92" rx="3.45" ry="3.95" fill="url(#gG)" stroke="#bcb4b0" stroke-width="0.55"/>
<ellipse cx="333.4" cy="151.92" rx="3.45" ry="3.95" fill="url(#gP)" stroke="#bcb4b0" stroke-width="0.55"/>
<ellipse cx="345" cy="151.92" rx="3.45" ry="3.95" fill="url(#gG)" stroke="#bcb4b0" stroke-width="0.55"/>
<ellipse cx="353.4" cy="151.92" rx="3.45" ry="3.95" fill="url(#gG)" stroke="#bcb4b0" stroke-width="0.55"/>
<ellipse cx="374.7" cy="151.92" rx="3.45" ry="3.95" fill="url(#gG)" stroke="#bcb4b0" stroke-width="0.55"/>
<ellipse cx="439.4" cy="151.92" rx="3.45" ry="3.95" fill="url(#gG)" stroke="#bcb4b0" stroke-width="0.55"/>
<line x1="210.3" y1="164.08" x2="442.6" y2="164.08" stroke="#a89c9a" stroke-width="1.4"/>
<text x="184.3" y="167.13" font-size="7.9" fill="#64301f" stroke="#64301f" stroke-width="0.2" textLength="25.8" lengthAdjust="spacingAndGlyphs">PlGASA15</text>
<ellipse cx="226" cy="164.08" rx="3.45" ry="3.95" fill="url(#gG)" stroke="#bcb4b0" stroke-width="0.55"/>
<ellipse cx="230.6" cy="164.08" rx="3.45" ry="3.95" fill="url(#gG)" stroke="#bcb4b0" stroke-width="0.55"/>
<ellipse cx="237" cy="164.08" rx="3.45" ry="3.95" fill="url(#gL)" stroke="#bcb4b0" stroke-width="0.55"/>
<ellipse cx="244" cy="164.08" rx="3.45" ry="3.95" fill="url(#gG)" stroke="#bcb4b0" stroke-width="0.55"/>
<ellipse cx="254.6" cy="164.08" rx="3.45" ry="3.95" fill="url(#gG)" stroke="#bcb4b0" stroke-width="0.55"/>
<ellipse cx="280.6" cy="164.08" rx="3.45" ry="3.95" fill="url(#gG)" stroke="#bcb4b0" stroke-width="0.55"/>
<ellipse cx="292" cy="164.08" rx="3.45" ry="3.95" fill="url(#gG)" stroke="#bcb4b0" stroke-width="0.55"/>
<ellipse cx="325" cy="164.08" rx="3.45" ry="3.95" fill="url(#gG)" stroke="#bcb4b0" stroke-width="0.55"/>
<ellipse cx="331.4" cy="164.08" rx="3.45" ry="3.95" fill="url(#gG)" stroke="#bcb4b0" stroke-width="0.55"/>
<ellipse cx="344" cy="164.08" rx="3.45" ry="3.95" fill="url(#gG)" stroke="#bcb4b0" stroke-width="0.55"/>
<ellipse cx="363.8" cy="164.08" rx="3.45" ry="3.95" fill="url(#gG)" stroke="#bcb4b0" stroke-width="0.55"/>
<ellipse cx="366.8" cy="164.08" rx="3.45" ry="3.95" fill="url(#gG)" stroke="#bcb4b0" stroke-width="0.55"/>
<ellipse cx="385" cy="164.08" rx="3.45" ry="3.95" fill="url(#gY)" stroke="#bcb4b0" stroke-width="0.55"/>
<ellipse cx="394" cy="164.08" rx="3.45" ry="3.95" fill="url(#gG)" stroke="#bcb4b0" stroke-width="0.55"/>
<ellipse cx="389.6" cy="164.08" rx="3.45" ry="3.95" fill="url(#gR)" stroke="#bcb4b0" stroke-width="0.55"/>
<ellipse cx="405.3" cy="164.08" rx="3.45" ry="3.95" fill="url(#gG)" stroke="#bcb4b0" stroke-width="0.55"/>
<ellipse cx="418" cy="164.08" rx="3.45" ry="3.95" fill="url(#gG)" stroke="#bcb4b0" stroke-width="0.55"/>
<ellipse cx="426.5" cy="164.08" rx="3.45" ry="3.95" fill="url(#gT)" stroke="#bcb4b0" stroke-width="0.55"/>
<line x1="210.3" y1="176.25" x2="442.6" y2="176.25" stroke="#a89c9a" stroke-width="1.4"/>
<text x="184.3" y="179.3" font-size="7.9" fill="#64301f" stroke="#64301f" stroke-width="0.2" textLength="25.8" lengthAdjust="spacingAndGlyphs">PlGASA03</text>
<ellipse cx="217" cy="176.25" rx="3.45" ry="3.95" fill="url(#gG)" stroke="#bcb4b0" stroke-width="0.55"/>
<ellipse cx="225.6" cy="176.25" rx="3.45" ry="3.95" fill="url(#gL)" stroke="#bcb4b0" stroke-width="0.55"/>
<ellipse cx="236.4" cy="176.25" rx="3.45" ry="3.95" fill="url(#gT)" stroke="#bcb4b0" stroke-width="0.55"/>
<ellipse cx="310" cy="176.25" rx="3.45" ry="3.95" fill="url(#gL)" stroke="#bcb4b0" stroke-width="0.55"/>
<ellipse cx="353.6" cy="176.25" rx="3.45" ry="3.95" fill="url(#gG)" stroke="#bcb4b0" stroke-width="0.55"/>
<ellipse cx="369.5" cy="176.25" rx="3.45" ry="3.95" fill="url(#gG)" stroke="#bcb4b0" stroke-width="0.55"/>
<ellipse cx="409.5" cy="176.25" rx="3.45" ry="3.95" fill="url(#gR)" stroke="#bcb4b0" stroke-width="0.55"/>
<line x1="210.3" y1="188.42" x2="442.6" y2="188.42" stroke="#a89c9a" stroke-width="1.4"/>
<text x="184.3" y="191.47" font-size="7.9" fill="#64301f" stroke="#64301f" stroke-width="0.2" textLength="25.8" lengthAdjust="spacingAndGlyphs">PlGASA17</text>
<ellipse cx="217" cy="188.42" rx="3.45" ry="3.95" fill="url(#gG)" stroke="#bcb4b0" stroke-width="0.55"/>
<ellipse cx="226.6" cy="188.42" rx="3.45" ry="3.95" fill="url(#gG)" stroke="#bcb4b0" stroke-width="0.55"/>
<ellipse cx="231" cy="188.42" rx="3.45" ry="3.95" fill="url(#gG)" stroke="#bcb4b0" stroke-width="0.55"/>
<ellipse cx="235" cy="188.42" rx="3.45" ry="3.95" fill="url(#gG)" stroke="#bcb4b0" stroke-width="0.55"/>
<ellipse cx="248.6" cy="188.42" rx="3.45" ry="3.95" fill="url(#gG)" stroke="#bcb4b0" stroke-width="0.55"/>
<ellipse cx="271" cy="188.42" rx="3.45" ry="3.95" fill="url(#gG)" stroke="#bcb4b0" stroke-width="0.55"/>
<ellipse cx="276" cy="188.42" rx="3.45" ry="3.95" fill="url(#gG)" stroke="#bcb4b0" stroke-width="0.55"/>
<ellipse cx="286.6" cy="188.42" rx="3.45" ry="3.95" fill="url(#gG)" stroke="#bcb4b0" stroke-width="0.55"/>
<ellipse cx="331.4" cy="188.42" rx="3.45" ry="3.95" fill="url(#gG)" stroke="#bcb4b0" stroke-width="0.55"/>
<ellipse cx="356.6" cy="188.42" rx="3.45" ry="3.95" fill="url(#gG)" stroke="#bcb4b0" stroke-width="0.55"/>
<ellipse cx="364.4" cy="188.42" rx="3.45" ry="3.95" fill="url(#gG)" stroke="#bcb4b0" stroke-width="0.55"/>
<ellipse cx="391" cy="188.42" rx="3.45" ry="3.95" fill="url(#gW)" stroke="#bcb4b0" stroke-width="0.55"/>
<ellipse cx="397" cy="188.42" rx="3.45" ry="3.95" fill="url(#gR)" stroke="#bcb4b0" stroke-width="0.55"/>
<ellipse cx="409" cy="188.42" rx="3.45" ry="3.95" fill="url(#gG)" stroke="#bcb4b0" stroke-width="0.55"/>
<ellipse cx="430.8" cy="188.42" rx="3.45" ry="3.95" fill="url(#gG)" stroke="#bcb4b0" stroke-width="0.55"/>
<line x1="210.3" y1="200.59" x2="442.6" y2="200.59" stroke="#a89c9a" stroke-width="1.4"/>
<text x="184.3" y="203.64" font-size="7.9" fill="#64301f" stroke="#64301f" stroke-width="0.2" textLength="25.8" lengthAdjust="spacingAndGlyphs">PlGASA18</text>
<ellipse cx="218.6" cy="200.59" rx="3.45" ry="3.95" fill="url(#gG)" stroke="#bcb4b0" stroke-width="0.55"/>
<ellipse cx="226.6" cy="200.59" rx="3.45" ry="3.95" fill="url(#gG)" stroke="#bcb4b0" stroke-width="0.55"/>
<ellipse cx="232" cy="200.59" rx="3.45" ry="3.95" fill="url(#gG)" stroke="#bcb4b0" stroke-width="0.55"/>
<ellipse cx="245" cy="200.59" rx="3.45" ry="3.95" fill="url(#gO)" stroke="#bcb4b0" stroke-width="0.55"/>
<ellipse cx="247.6" cy="200.59" rx="3.45" ry="3.95" fill="url(#gG)" stroke="#bcb4b0" stroke-width="0.55"/>
<ellipse cx="292.4" cy="200.59" rx="3.45" ry="3.95" fill="url(#gG)" stroke="#bcb4b0" stroke-width="0.55"/>
<ellipse cx="308" cy="200.59" rx="3.45" ry="3.95" fill="url(#gG)" stroke="#bcb4b0" stroke-width="0.55"/>
<ellipse cx="310.4" cy="200.59" rx="3.45" ry="3.95" fill="url(#gG)" stroke="#bcb4b0" stroke-width="0.55"/>
<ellipse cx="320.6" cy="200.59" rx="3.45" ry="3.95" fill="url(#gG)" stroke="#bcb4b0" stroke-width="0.55"/>
<ellipse cx="331" cy="200.59" rx="3.45" ry="3.95" fill="url(#gG)" stroke="#bcb4b0" stroke-width="0.55"/>
<ellipse cx="361" cy="200.59" rx="3.45" ry="3.95" fill="url(#gG)" stroke="#bcb4b0" stroke-width="0.55"/>
<ellipse cx="367.2" cy="200.59" rx="3.45" ry="3.95" fill="url(#gG)" stroke="#bcb4b0" stroke-width="0.55"/>
<ellipse cx="370.7" cy="200.59" rx="3.45" ry="3.95" fill="url(#gG)" stroke="#bcb4b0" stroke-width="0.55"/>
<ellipse cx="397.3" cy="200.59" rx="3.45" ry="3.95" fill="url(#gT)" stroke="#bcb4b0" stroke-width="0.55"/>
<ellipse cx="405.6" cy="200.59" rx="3.45" ry="3.95" fill="url(#gG)" stroke="#bcb4b0" stroke-width="0.55"/>
<line x1="210.3" y1="212.76" x2="442.6" y2="212.76" stroke="#a89c9a" stroke-width="1.4"/>
<text x="184.3" y="215.81" font-size="7.9" fill="#64301f" stroke="#64301f" stroke-width="0.2" textLength="25.8" lengthAdjust="spacingAndGlyphs">PlGASA01</text>
<ellipse cx="222" cy="212.76" rx="3.45" ry="3.95" fill="url(#gG)" stroke="#bcb4b0" stroke-width="0.55"/>
<ellipse cx="250" cy="212.76" rx="3.45" ry="3.95" fill="url(#gG)" stroke="#bcb4b0" stroke-width="0.55"/>
<ellipse cx="257" cy="212.76" rx="3.45" ry="3.95" fill="url(#gG)" stroke="#bcb4b0" stroke-width="0.55"/>
<ellipse cx="267.4" cy="212.76" rx="3.45" ry="3.95" fill="url(#gG)" stroke="#bcb4b0" stroke-width="0.55"/>
<ellipse cx="295" cy="212.76" rx="3.45" ry="3.95" fill="url(#gG)" stroke="#bcb4b0" stroke-width="0.55"/>
<ellipse cx="307" cy="212.76" rx="3.45" ry="3.95" fill="url(#gG)" stroke="#bcb4b0" stroke-width="0.55"/>
<ellipse cx="329" cy="212.76" rx="3.45" ry="3.95" fill="url(#gG)" stroke="#bcb4b0" stroke-width="0.55"/>
<ellipse cx="377.2" cy="212.76" rx="3.45" ry="3.95" fill="url(#gG)" stroke="#bcb4b0" stroke-width="0.55"/>
<ellipse cx="400.8" cy="212.76" rx="3.45" ry="3.95" fill="url(#gG)" stroke="#bcb4b0" stroke-width="0.55"/>
<ellipse cx="412" cy="212.76" rx="3.45" ry="3.95" fill="url(#gP)" stroke="#bcb4b0" stroke-width="0.55"/>
<line x1="210.3" y1="224.92" x2="442.6" y2="224.92" stroke="#a89c9a" stroke-width="1.4"/>
<text x="184.3" y="227.97" font-size="7.9" fill="#64301f" stroke="#64301f" stroke-width="0.2" textLength="25.8" lengthAdjust="spacingAndGlyphs">PlGASA10</text>
<ellipse cx="233.8" cy="224.92" rx="3.45" ry="3.95" fill="url(#gO)" stroke="#bcb4b0" stroke-width="0.55"/>
<ellipse cx="224" cy="224.92" rx="3.45" ry="3.95" fill="url(#gG)" stroke="#bcb4b0" stroke-width="0.55"/>
<ellipse cx="227.4" cy="224.92" rx="3.45" ry="3.95" fill="url(#gG)" stroke="#bcb4b0" stroke-width="0.55"/>
<ellipse cx="231" cy="224.92" rx="3.45" ry="3.95" fill="url(#gG)" stroke="#bcb4b0" stroke-width="0.55"/>
<ellipse cx="291.6" cy="224.92" rx="3.45" ry="3.95" fill="url(#gG)" stroke="#bcb4b0" stroke-width="0.55"/>
<ellipse cx="302" cy="224.92" rx="3.45" ry="3.95" fill="url(#gG)" stroke="#bcb4b0" stroke-width="0.55"/>
<ellipse cx="304" cy="224.92" rx="3.45" ry="3.95" fill="url(#gG)" stroke="#bcb4b0" stroke-width="0.55"/>
<ellipse cx="313" cy="224.92" rx="3.45" ry="3.95" fill="url(#gG)" stroke="#bcb4b0" stroke-width="0.55"/>
<ellipse cx="331.6" cy="224.92" rx="3.45" ry="3.95" fill="url(#gG)" stroke="#bcb4b0" stroke-width="0.55"/>
<ellipse cx="335.6" cy="224.92" rx="3.45" ry="3.95" fill="url(#gG)" stroke="#bcb4b0" stroke-width="0.55"/>
<ellipse cx="342.6" cy="224.92" rx="3.45" ry="3.95" fill="url(#gG)" stroke="#bcb4b0" stroke-width="0.55"/>
<ellipse cx="359" cy="224.92" rx="3.45" ry="3.95" fill="url(#gG)" stroke="#bcb4b0" stroke-width="0.55"/>
<ellipse cx="365.3" cy="224.92" rx="3.45" ry="3.95" fill="url(#gP)" stroke="#bcb4b0" stroke-width="0.55"/>
<ellipse cx="388.2" cy="224.92" rx="3.45" ry="3.95" fill="url(#gP)" stroke="#bcb4b0" stroke-width="0.55"/>
<ellipse cx="403.3" cy="224.92" rx="3.45" ry="3.95" fill="url(#gO)" stroke="#bcb4b0" stroke-width="0.55"/>
<ellipse cx="408.6" cy="224.92" rx="3.45" ry="3.95" fill="url(#gG)" stroke="#bcb4b0" stroke-width="0.55"/>
<ellipse cx="415.2" cy="224.92" rx="3.45" ry="3.95" fill="url(#gT)" stroke="#bcb4b0" stroke-width="0.55"/>
<ellipse cx="419.1" cy="224.92" rx="3.45" ry="3.95" fill="url(#gO)" stroke="#bcb4b0" stroke-width="0.55"/>
<ellipse cx="436.4" cy="224.92" rx="3.45" ry="3.95" fill="url(#gG)" stroke="#bcb4b0" stroke-width="0.55"/>
<line x1="210.2" y1="237.2" x2="442.7" y2="237.2" stroke="#a89c9a" stroke-width="1.2"/>
<line x1="210.2" y1="237.2" x2="210.2" y2="240" stroke="#a89c9a" stroke-width="1"/>
<text x="209" y="247.9" font-size="7.3" fill="#64301f" stroke="#66301f" stroke-width="0.18" textLength="2.4" lengthAdjust="spacingAndGlyphs">0</text>
<line x1="256.7" y1="237.2" x2="256.7" y2="240" stroke="#a89c9a" stroke-width="1"/>
<text x="252.1" y="247.9" font-size="7.3" fill="#64301f" stroke="#66301f" stroke-width="0.18" textLength="9.2" lengthAdjust="spacingAndGlyphs">300</text>
<line x1="303.2" y1="237.2" x2="303.2" y2="240" stroke="#a89c9a" stroke-width="1"/>
<text x="298.6" y="247.9" font-size="7.3" fill="#64301f" stroke="#66301f" stroke-width="0.18" textLength="9.2" lengthAdjust="spacingAndGlyphs">600</text>
<line x1="349.7" y1="237.2" x2="349.7" y2="240" stroke="#a89c9a" stroke-width="1"/>
<text x="345.1" y="247.9" font-size="7.3" fill="#64301f" stroke="#66301f" stroke-width="0.18" textLength="9.2" lengthAdjust="spacingAndGlyphs">900</text>
<line x1="396.2" y1="237.2" x2="396.2" y2="240" stroke="#a89c9a" stroke-width="1"/>
<text x="390.5" y="247.9" font-size="7.3" fill="#64301f" stroke="#66301f" stroke-width="0.18" textLength="11.4" lengthAdjust="spacingAndGlyphs">1200</text>
<line x1="442.7" y1="237.2" x2="442.7" y2="240" stroke="#a89c9a" stroke-width="1"/>
<text x="437" y="247.9" font-size="7.3" fill="#64301f" stroke="#66301f" stroke-width="0.18" textLength="11.4" lengthAdjust="spacingAndGlyphs">1500</text>
<text x="206.3" y="238.9" font-size="6.8" fill="#64301f" stroke="#66301f" stroke-width="0.25" textLength="3.2" lengthAdjust="spacingAndGlyphs">5'</text>
<text x="443.6" y="238.9" font-size="6.8" fill="#64301f" stroke="#66301f" stroke-width="0.25" textLength="3.6" lengthAdjust="spacingAndGlyphs">3'</text>
<rect x="446.4" y="4" width="15.4" height="8.4" fill="url(#sG)" stroke="#d0cccc" stroke-width="0.6"/>
<text x="464.1" y="12.2" font-size="7.7" fill="#64301f" stroke="#64301f" stroke-width="0.22" textLength="49.1" lengthAdjust="spacingAndGlyphs">light responsiveness</text>
<rect x="446.4" y="16.12" width="15.4" height="8.4" fill="url(#sY)" stroke="#d0cccc" stroke-width="0.6"/>
<text x="464.1" y="24.27" font-size="7.7" fill="#64301f" stroke="#64301f" stroke-width="0.22" textLength="69.9" lengthAdjust="spacingAndGlyphs">abscisic acid responsiveness</text>
<rect x="446.4" y="28.24" width="15.4" height="8.4" fill="url(#sP)" stroke="#d0cccc" stroke-width="0.6"/>
<text x="464.1" y="36.34" font-size="7.7" fill="#64301f" stroke="#64301f" stroke-width="0.22" textLength="53.5" lengthAdjust="spacingAndGlyphs">MeJA-responsiveness</text>
<rect x="446.4" y="40.36" width="15.4" height="8.4" fill="url(#sT)" stroke="#d0cccc" stroke-width="0.6"/>
<text x="464.1" y="48.41" font-size="7.7" fill="#64301f" stroke="#64301f" stroke-width="0.22" textLength="85.1" lengthAdjust="spacingAndGlyphs">defense and stress responsiveness</text>
<rect x="446.4" y="52.48" width="15.4" height="8.4" fill="url(#sR)" stroke="#d0cccc" stroke-width="0.6"/>
<text x="464.1" y="60.48" font-size="7.7" fill="#64301f" stroke="#64301f" stroke-width="0.22" textLength="77.7" lengthAdjust="spacingAndGlyphs">low-temperature responsiveness</text>
<rect x="446.4" y="64.6" width="15.4" height="8.4" fill="url(#sL)" stroke="#d0cccc" stroke-width="0.6"/>
<text x="464.1" y="72.55" font-size="7.7" fill="#64301f" stroke="#64301f" stroke-width="0.22" textLength="63.3" lengthAdjust="spacingAndGlyphs">gibberellin responsiveness</text>
<rect x="446.4" y="76.72" width="15.4" height="8.4" fill="url(#sA)" stroke="#d0cccc" stroke-width="0.6"/>
<text x="464.1" y="84.62" font-size="7.7" fill="#64301f" stroke="#64301f" stroke-width="0.22" textLength="52" lengthAdjust="spacingAndGlyphs">auxin responsiveness</text>
<rect x="446.4" y="88.84" width="15.4" height="8.4" fill="url(#sO)" stroke="#d0cccc" stroke-width="0.6"/>
<text x="464.1" y="96.69" font-size="7.7" fill="#64301f" stroke="#64301f" stroke-width="0.22" textLength="69.2" lengthAdjust="spacingAndGlyphs">salicylic acid responsiveness</text>
<rect x="446.4" y="100.96" width="15.4" height="8.4" fill="url(#sW)" stroke="#d0cccc" stroke-width="0.6"/>
<text x="464.1" y="108.76" font-size="7.7" fill="#64301f" stroke="#64301f" stroke-width="0.22" textLength="54.8" lengthAdjust="spacingAndGlyphs">wound responsiveness</text>
</svg></body></html>
